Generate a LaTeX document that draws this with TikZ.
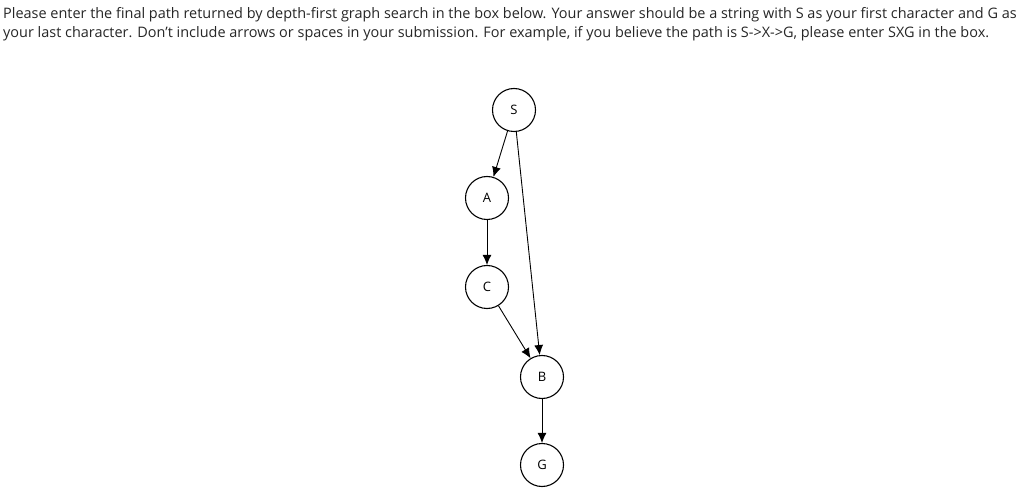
\documentclass[tikz,border=0pt]{standalone}
\usepackage{fontspec}
\setmainfont{Open Sans}
\usetikzlibrary{arrows.meta}
\begin{document}
\begin{tikzpicture}[x=1pt,y=-1pt,
  vtx/.style={circle,draw,line width=1.1pt,minimum size=43pt,inner sep=0pt,font=\fontsize{13}{15}\selectfont},
  edge/.style={line width=0.9pt,-{Latex[length=10pt,width=9pt]}},
  txt/.style={anchor=base west,inner sep=0pt,font=\fontsize{14.45}{17}\selectfont,color=black!85}]
\useasboundingbox (0,0) rectangle (1024,502);
\node[txt] (l1) at (3,19) {Please enter the final path returned by depth-first graph search in the box below. Your answer should be a string with S as your first character and G as};
\node[txt] (l2) at (3,38) {your last character. Don't include arrows or spaces in your submission. For example, if you believe the path is S->X->G, please enter SXG in the box.};
\node[vtx] (S) at (514,110) {S};
\node[vtx] (A) at (487,198) {A};
\node[vtx] (C) at (487,287) {C};
\node[vtx] (B) at (542,377) {B};
\node[vtx] (G) at (542,465) {G};
\draw[edge] (S) -- (A);
\draw[edge] (S) -- (B);
\draw[edge] (A) -- (C);
\draw[edge] (C) -- (B);
\draw[edge] (B) -- (G);
\end{tikzpicture}
\end{document}
